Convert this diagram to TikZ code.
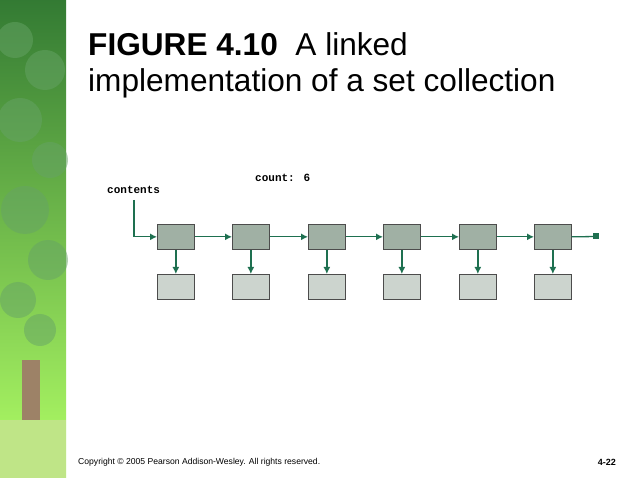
\documentclass[tikz,border=0pt]{standalone}
\usepackage{fontspec}
\setmainfont{Liberation Sans}
\newfontfamily\cour{Liberation Mono}
\usetikzlibrary{arrows.meta}
\definecolor{lnk}{HTML}{1E7050}
\definecolor{topbox}{HTML}{A0B0A4}
\definecolor{botbox}{HTML}{CCD4CE}
\tikzset{
  nodebox/.style={draw=black!70,line width=0.7pt,minimum width=37pt,minimum height=25pt,inner sep=0pt},
  topn/.style={nodebox,fill=topbox},
  botn/.style={nodebox,fill=botbox},
  link/.style={draw=lnk,line width=1.3pt,-{Latex[length=7pt,width=7pt]}},
  mono/.style={font=\cour\fontsize{11}{12}\selectfont,inner sep=0pt}
}
\begin{document}
\begin{tikzpicture}[x=1pt,y=-1pt]
\useasboundingbox (0,0) rectangle (638,478);
\fill[white] (0,0) rectangle (638,478);
% left decorative strip
\shade[top color=green!35!black!80, bottom color=green!50!yellow!60] (0,0) rectangle (66,478);
\foreach \x/\y/\r in {15/40/18,45/70/20,20/120/22,50/160/18,25/210/24,48/260/20,18/300/18,40/330/16}
  \fill[green!40!black!60,opacity=0.5] (\x,\y) circle (\r);
\fill[brown!60!black!70] (22,360) rectangle (40,420);
\fill[yellow!50!green!50] (0,420) rectangle (66,478);
% title
\node[anchor=north west,align=left,inner sep=0pt,font=\fontsize{31.6}{36}\selectfont] (title) at (88,32)
  {\textbf{FIGURE 4.10}\ \ A linked\\implementation of a set collection};
% labels
\node[mono,anchor=south west] (count) at (255,182) {\textbf{count: 6}};
\node[mono,anchor=south west] (contents) at (107,194) {\textbf{contents}};
% nodes
\foreach \i/\x in {1/157,2/232,3/308,4/383,5/459,6/534}{
  \node[topn,anchor=north west] (t\i) at (\x,224) {};
  \node[botn,anchor=north west] (b\i) at (\x,274) {};
  \draw[link] (t\i.south) -- (b\i.north);
}
\foreach \i/\j in {1/2,2/3,3/4,4/5,5/6} \draw[link] (t\i) -- (t\j);
\coordinate (start) at (134,200);
\draw[link] (start) |- (t1.west);
\coordinate (endp) at (596,236.5);
\draw[draw=lnk,line width=1.3pt] (t6.east) -- (endp);
\fill[lnk] ([xshift=-3pt,yshift=-3pt]endp) rectangle ([xshift=3pt,yshift=3pt]endp);
% footer
\node[anchor=west,inner sep=0pt,font=\fontsize{8.6}{10}\selectfont] (copy) at (78,462) {Copyright © 2005 Pearson Addison-Wesley. All rights reserved.};
\node[anchor=east,inner sep=0pt,font=\bfseries\fontsize{9}{10}\selectfont] (pg) at (616,462) {4-22};
\end{tikzpicture}
\end{document}
